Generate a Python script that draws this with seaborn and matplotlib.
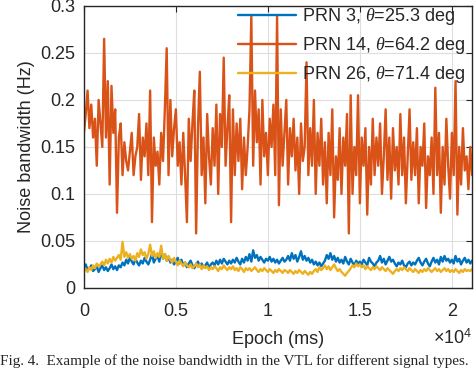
import numpy as np
import pandas as pd
import seaborn as sns
import matplotlib
matplotlib.use("Agg")
import matplotlib.pyplot as plt

# Noise bandwidth (Hz), one value every 100 ms
epoch_step = 100
prn3 = [
    0.022, 0.025, 0.019, 0.021, 0.024, 0.018, 0.020, 0.023, 0.017, 0.021,
    0.024, 0.019, 0.022, 0.018, 0.021, 0.025, 0.020, 0.023, 0.019, 0.024,
    0.022, 0.027, 0.024, 0.030, 0.026, 0.033, 0.028, 0.025, 0.031, 0.027,
    0.024, 0.029, 0.026, 0.032, 0.028, 0.025, 0.030, 0.036, 0.027, 0.031,
    0.034, 0.028, 0.040, 0.031, 0.036, 0.029, 0.033, 0.027, 0.030, 0.025,
    0.028, 0.032, 0.026, 0.030, 0.024, 0.027, 0.022, 0.026, 0.029, 0.024,
    0.021, 0.025, 0.028, 0.023, 0.026, 0.022, 0.024, 0.027, 0.021, 0.025,
    0.027, 0.024, 0.029, 0.025, 0.030, 0.026, 0.031, 0.028, 0.025, 0.029,
    0.026, 0.030, 0.027, 0.032, 0.028, 0.025, 0.031, 0.027, 0.033, 0.029,
    0.036, 0.028, 0.040, 0.032, 0.035, 0.029, 0.033, 0.030, 0.027, 0.031,
    0.029, 0.033, 0.028, 0.031, 0.027, 0.030, 0.026, 0.029, 0.032, 0.028,
    0.030, 0.034, 0.029, 0.037, 0.031, 0.035, 0.028, 0.033, 0.039, 0.030,
    0.034, 0.029, 0.032, 0.027, 0.030, 0.025, 0.028, 0.024, 0.027, 0.023,
    0.026, 0.029, 0.035, 0.031, 0.037, 0.030, 0.034, 0.028, 0.032, 0.027,
    0.030, 0.026, 0.033, 0.028, 0.025, 0.031, 0.027, 0.024, 0.029, 0.026,
    0.028, 0.025, 0.030, 0.027, 0.024, 0.032, 0.028, 0.026, 0.023, 0.027,
    0.029, 0.034, 0.027, 0.031, 0.025, 0.029, 0.033, 0.028, 0.030, 0.026,
    0.023, 0.027, 0.025, 0.029, 0.024, 0.022, 0.026, 0.028, 0.024, 0.027,
    0.025, 0.029, 0.032, 0.027, 0.024, 0.028, 0.031, 0.026, 0.023, 0.028,
    0.032, 0.027, 0.030, 0.025, 0.033, 0.028, 0.034, 0.029, 0.031, 0.027,
    0.030, 0.026, 0.034, 0.028, 0.031, 0.025, 0.029, 0.032, 0.027, 0.030,
    0.026, 0.029,
]
prn14 = [
    0.165, 0.185, 0.210, 0.170, 0.195, 0.160, 0.180, 0.130, 0.200, 0.175,
    0.150, 0.265, 0.160, 0.220, 0.110, 0.215, 0.165, 0.190, 0.080, 0.160,
    0.175, 0.120, 0.155, 0.135, 0.125, 0.145, 0.165, 0.120, 0.140, 0.150,
    0.185, 0.115, 0.160, 0.140, 0.175, 0.120, 0.210, 0.070, 0.160, 0.130,
    0.145, 0.110, 0.165, 0.135, 0.190, 0.255, 0.120, 0.200, 0.140, 0.170,
    0.190, 0.130, 0.155, 0.110, 0.165, 0.120, 0.070, 0.180, 0.135, 0.175,
    0.210, 0.058, 0.170, 0.230, 0.120, 0.160, 0.090, 0.185, 0.140, 0.110,
    0.170, 0.130, 0.195, 0.100, 0.185, 0.150, 0.245, 0.130, 0.170, 0.205,
    0.070, 0.190, 0.120, 0.175, 0.135, 0.180, 0.105, 0.160, 0.120, 0.150,
    0.190, 0.290, 0.130, 0.210, 0.155, 0.190, 0.110, 0.200, 0.140, 0.165,
    0.120, 0.180, 0.150, 0.195, 0.120, 0.290, 0.088, 0.190, 0.130, 0.165,
    0.200, 0.110, 0.170, 0.140, 0.180, 0.125, 0.160, 0.100, 0.175, 0.135,
    0.150, 0.240, 0.120, 0.170, 0.130, 0.200, 0.100, 0.165, 0.130, 0.180,
    0.110, 0.155, 0.090, 0.165, 0.120, 0.190, 0.075, 0.140, 0.115, 0.170,
    0.100, 0.160, 0.130, 0.185, 0.058, 0.205, 0.100, 0.150, 0.120, 0.205,
    0.090, 0.160, 0.130, 0.170, 0.078, 0.150, 0.110, 0.180, 0.120, 0.160,
    0.130, 0.175, 0.100, 0.140, 0.190, 0.115, 0.160, 0.095, 0.170, 0.125,
    0.150, 0.110, 0.185, 0.120, 0.160, 0.090, 0.140, 0.190, 0.115, 0.155,
    0.120, 0.170, 0.090, 0.150, 0.130, 0.175, 0.085, 0.140, 0.120, 0.160,
    0.100, 0.213, 0.120, 0.165, 0.080, 0.150, 0.110, 0.180, 0.130, 0.095,
    0.165, 0.120, 0.220, 0.078, 0.150, 0.110, 0.170, 0.125, 0.140, 0.105,
    0.150, 0.120,
]
prn26 = [
    0.018, 0.020, 0.017, 0.022, 0.019, 0.024, 0.021, 0.026, 0.023, 0.025,
    0.028, 0.024, 0.030, 0.026, 0.031, 0.027, 0.033, 0.029, 0.032, 0.035,
    0.030, 0.049, 0.033, 0.038, 0.032, 0.036, 0.031, 0.034, 0.029, 0.037,
    0.033, 0.041, 0.035, 0.038, 0.031, 0.036, 0.046, 0.034, 0.039, 0.032,
    0.037, 0.033, 0.045, 0.031, 0.036, 0.029, 0.034, 0.030, 0.027, 0.032,
    0.028, 0.024, 0.029, 0.026, 0.023, 0.027, 0.024, 0.022, 0.025, 0.021,
    0.023, 0.026, 0.022, 0.025, 0.020, 0.024, 0.021, 0.023, 0.019, 0.022,
    0.020, 0.023, 0.021, 0.018, 0.022, 0.020, 0.024, 0.021, 0.019, 0.022,
    0.020, 0.023, 0.019, 0.021, 0.018, 0.022, 0.020, 0.017, 0.021, 0.019,
    0.021, 0.018, 0.020, 0.022, 0.019, 0.017, 0.020, 0.018, 0.021, 0.019,
    0.017, 0.020, 0.018, 0.016, 0.019, 0.017, 0.020, 0.018, 0.016, 0.019,
    0.018, 0.016, 0.019, 0.017, 0.015, 0.018, 0.016, 0.019, 0.017, 0.015,
    0.018, 0.016, 0.014, 0.017, 0.015, 0.018, 0.020, 0.017, 0.022, 0.019,
    0.021, 0.024, 0.020, 0.023, 0.019, 0.022, 0.025, 0.021, 0.018, 0.020,
    0.017, 0.015, 0.013, 0.016, 0.018, 0.021, 0.024, 0.022, 0.026, 0.023,
    0.025, 0.022, 0.024, 0.020, 0.023, 0.021, 0.019, 0.022, 0.020, 0.023,
    0.021, 0.019, 0.022, 0.020, 0.018, 0.021, 0.019, 0.017, 0.015, 0.018,
    0.020, 0.018, 0.021, 0.019, 0.022, 0.020, 0.018, 0.021, 0.019, 0.017,
    0.020, 0.018, 0.016, 0.019, 0.017, 0.020, 0.018, 0.021, 0.019, 0.017,
    0.019, 0.021, 0.018, 0.020, 0.017, 0.019, 0.021, 0.018, 0.020, 0.017,
    0.019, 0.017, 0.020, 0.018, 0.016, 0.019, 0.017, 0.020, 0.018, 0.019,
    0.018, 0.020,
]
labels = [r"PRN 3, $\mathit{\theta}$=25.3 deg",
          r"PRN 14, $\mathit{\theta}$=64.2 deg",
          r"PRN 26, $\mathit{\theta}$=71.4 deg"]
colors = ["#0072BD", "#D95319", "#EDB120"]
xticks = [0, 5000, 10000, 15000, 20000]
xtick_labels = ["0", "0.5", "1", "1.5", "2"]
yticks = [0, 0.05, 0.1, 0.15, 0.2, 0.25, 0.3]
ytick_labels = ["0", "0.05", "0.1", "0.15", "0.2", "0.25", "0.3"]

sns.set_style("white")
plt.rcParams["font.family"] = ["Liberation Sans", "DejaVu Sans"]
plt.rcParams["mathtext.fontset"] = "custom"
plt.rcParams["mathtext.rm"] = "Liberation Sans"
plt.rcParams["mathtext.it"] = "Liberation Serif:italic"

epochs = np.arange(len(prn14)) * epoch_step
df = pd.concat([
    pd.DataFrame({"epoch": epochs, "bw": vals, "series": lab})
    for vals, lab in zip([prn3, prn14, prn26], labels)
])

fig = plt.figure(figsize=(4.74, 3.72), dpi=100)
ax = fig.add_axes([0.177, 0.226, 0.819, 0.758])

sns.lineplot(data=df, x="epoch", y="bw", hue="series", palette=colors,
             hue_order=labels, linewidth=1.7, ax=ax, estimator=None)

ax.set_xlim(0, 21100)
ax.set_ylim(0, 0.3)
ax.set_xticks(xticks)
ax.set_xticklabels(xtick_labels)
ax.set_yticks(yticks)
ax.set_yticklabels(ytick_labels)
ax.grid(True, color="#dedede", linewidth=0.8)
ax.tick_params(direction="in", top=True, right=True, length=4,
               labelsize=13, pad=6, colors="#262626")
ax.tick_params(axis="x", pad=11)
for s in ax.spines.values():
    s.set_color("#262626")
    s.set_linewidth(1.0)

ax.set_xlabel("Epoch (ms)", fontsize=13, color="#262626", labelpad=8)
ax.set_ylabel("Noise bandwidth (Hz)", fontsize=13, color="#262626", labelpad=4)
ax.text(1.0, -0.145, r"$\times10^4$", transform=ax.transAxes, ha="right",
        va="top", fontsize=13, color="#262626")

leg = ax.legend(loc="upper right", frameon=False, fontsize=13,
                handlelength=3.2, handletextpad=0.3, labelspacing=0.45,
                borderaxespad=0.0, bbox_to_anchor=(1.0, 1.025))

fig.text(0.0, 0.012, "Fig. 4.  Example of the noise bandwidth in the VTL for different signal types.",
         family=["Liberation Serif"], fontsize=10.9, ha="left", va="bottom")

fig.savefig("out.png", dpi=100)
